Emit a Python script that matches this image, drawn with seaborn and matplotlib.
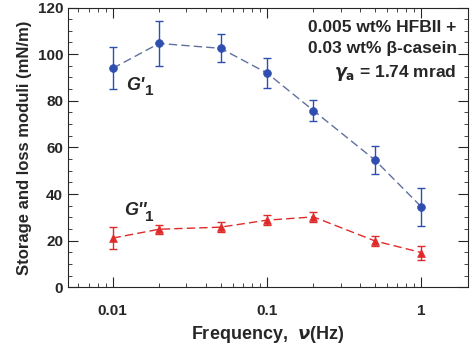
import matplotlib
matplotlib.use("Agg")
import matplotlib.pyplot as plt
import seaborn as sns
import numpy as np
import pandas as pd
from matplotlib.ticker import LogLocator, MultipleLocator, FixedLocator, NullFormatter

freq = [0.01, 0.02, 0.05, 0.1, 0.2, 0.5, 1.0]
g_storage = [93.9, 104.6, 102.5, 91.9, 75.8, 54.6, 34.5]
g_storage_err = [9.0, 9.5, 6.0, 6.3, 4.5, 6.0, 8.2]
g_loss = [21.1, 24.9, 25.8, 28.8, 30.2, 19.9, 14.9]
g_loss_err = [4.8, 2.0, 2.0, 2.0, 2.0, 2.0, 3.0]
x_ticks = [0.01, 0.1, 1]
x_ticklabels = ["0.01", "0.1", "1"]
y_ticks = [0, 20, 40, 60, 80, 100, 120]

sns.set_style("ticks")
plt.rcParams['font.family'] = ['Liberation Sans', 'DejaVu Sans']
plt.rcParams['font.weight'] = 'bold'

blue = "#2f4fb0"
red = "#e02a2a"

fig = plt.figure(figsize=(4.74, 3.48), dpi=100)
ax = fig.add_axes([0.1435, 0.1744, 0.8435, 0.8040])

df1 = pd.DataFrame({"freq": freq, "val": g_storage})
df2 = pd.DataFrame({"freq": freq, "val": g_loss})

ax.errorbar(freq, g_storage, yerr=g_storage_err, fmt='none', ecolor=blue, elinewidth=1.0, capsize=3, capthick=1.0, zorder=2)
ax.errorbar(freq, g_loss, yerr=g_loss_err, fmt='none', ecolor=red, elinewidth=1.0, capsize=3, capthick=1.0, zorder=2)

sns.lineplot(data=df1, x="freq", y="val", ax=ax, color="#6070a0", linestyle=(0, (6, 3)), linewidth=1.0, zorder=3)
sns.lineplot(data=df2, x="freq", y="val", ax=ax, color=red, linestyle=(0, (6, 3)), linewidth=1.0, zorder=3)
sns.scatterplot(data=df1, x="freq", y="val", ax=ax, color=blue, marker='o', s=32, edgecolor=blue, zorder=4)
sns.scatterplot(data=df2, x="freq", y="val", ax=ax, color=red, marker='^', s=32, edgecolor=red, zorder=4)

ax.set_xscale("log")
ax.set_xlim(0.00514, 2.0)
ax.set_ylim(0, 120)
ax.xaxis.set_major_locator(FixedLocator(x_ticks))
ax.set_xticklabels(x_ticklabels)
ax.xaxis.set_minor_locator(LogLocator(base=10, subs=np.arange(2, 10)))
ax.xaxis.set_minor_formatter(NullFormatter())
ax.set_yticks(y_ticks)
ax.yaxis.set_minor_locator(MultipleLocator(5))

ax.tick_params(which='both', direction='in', top=True, right=True, labelsize=11)
ax.tick_params(which='major', length=7, width=0.8)
ax.tick_params(which='minor', length=3, width=0.6)
for lab in ax.get_xticklabels() + ax.get_yticklabels():
    lab.set_fontweight('bold')
ax.tick_params(axis='x', pad=12)
for sp in ax.spines.values():
    sp.set_linewidth(0.8)

ax.set_xlabel(r"Frequency,  $\nu$(Hz)", fontsize=13, fontweight='bold', labelpad=4)
ax.set_ylabel("Storage and loss moduli (mN/m)", fontsize=12, fontweight='bold', labelpad=4)

ax.text(0.972, 0.955, "0.005 wt% HFBII +\n0.03 wt% β-casein\n" + r"$\gamma_{\mathbf{a}}$" + " = 1.74 mrad",
        transform=ax.transAxes, ha='right', va='top', fontsize=12.5, fontweight='bold', linespacing=1.5)
ax.text(0.0123, 86.6, "G'", fontsize=13, fontweight='bold', style='italic', va='center')
ax.text(0.0163, 84.0, "1", fontsize=11, fontweight='bold', va='center')
ax.text(0.0118, 32.8, "G''", fontsize=13, fontweight='bold', style='italic', va='center')
ax.text(0.0163, 30.0, "1", fontsize=11, fontweight='bold', va='center')

fig.savefig("out.png", dpi=100)
